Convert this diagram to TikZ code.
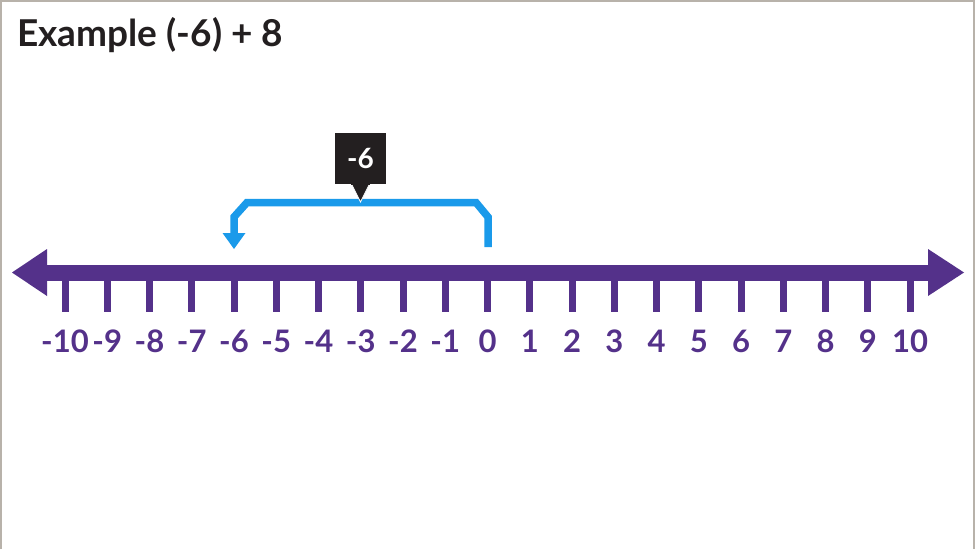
\documentclass[tikz,border=0pt]{standalone}
\usepackage{fontspec}
\setmainfont{Lato}
\definecolor{nlpurple}{RGB}{84,49,138}
\definecolor{nlblue}{RGB}{26,154,234}
\definecolor{framegray}{RGB}{184,178,170}
\definecolor{tagblack}{RGB}{35,31,32}
\begin{document}
\begin{tikzpicture}[x=1pt,y=-1pt,
  numlabel/.style={text=nlpurple,font=\fontsize{31}{31}\selectfont\bfseries,anchor=center,inner sep=0pt},
  tickline/.style={draw=nlpurple,line width=7pt},
  bracketline/.style={draw=nlblue,line width=7.5pt},
  titletext/.style={font=\fontsize{37}{37}\selectfont\bfseries,text=tagblack,anchor=west,inner sep=0pt},
  tagbox/.style={fill=tagblack,text=white,font=\fontsize{28}{28}\selectfont\bfseries,minimum width=51pt,minimum height=51pt,inner sep=0pt}]
\useasboundingbox (0,0) rectangle (976,549);
\fill[white] (0,0) rectangle (976,549);
% frame
\draw[framegray,line width=2pt] (1,549) -- (1,1) -- (974,1) -- (974,549);
% title
\node[titletext] (title) at (17,35) {Example (-6) + 8};
% number line bar and arrow heads
\fill[nlpurple] (45,265) rectangle (930,280.5);
\fill[nlpurple] (47,249) -- (12,272.5) -- (47,296) -- cycle;
\fill[nlpurple] (928,249) -- (964,272.5) -- (928,296) -- cycle;
% ticks and labels
\foreach \i in {-10,...,10} {
  \pgfmathsetmacro{\xx}{487.5+42.25*\i}
  \coordinate (t\i) at (\xx,280);
  \draw[tickline] (t\i) -- ++(0,32);
  \node[numlabel] (n\i) at (\xx,341) {\i};
}
% blue bracket
\coordinate (bstart) at (488,247);
\coordinate (bend) at (234,234);
\draw[bracketline,line join=miter] (bstart) -- (488,217) -- (476,202.5) -- (247,202.5) -- (234,217) -- (bend);
\fill[nlblue] (222.5,233) -- (245.5,233) -- (234,249) -- cycle;
% tag
\node[tagbox] (tag) at (360.5,158.5) {-6};
\filldraw[fill=tagblack,draw=white,line width=0.8pt] (351.5,184) -- (360.5,202) -- (369.5,184);
\fill[tagblack] (351,183) rectangle (370,185);
\end{tikzpicture}
\end{document}
